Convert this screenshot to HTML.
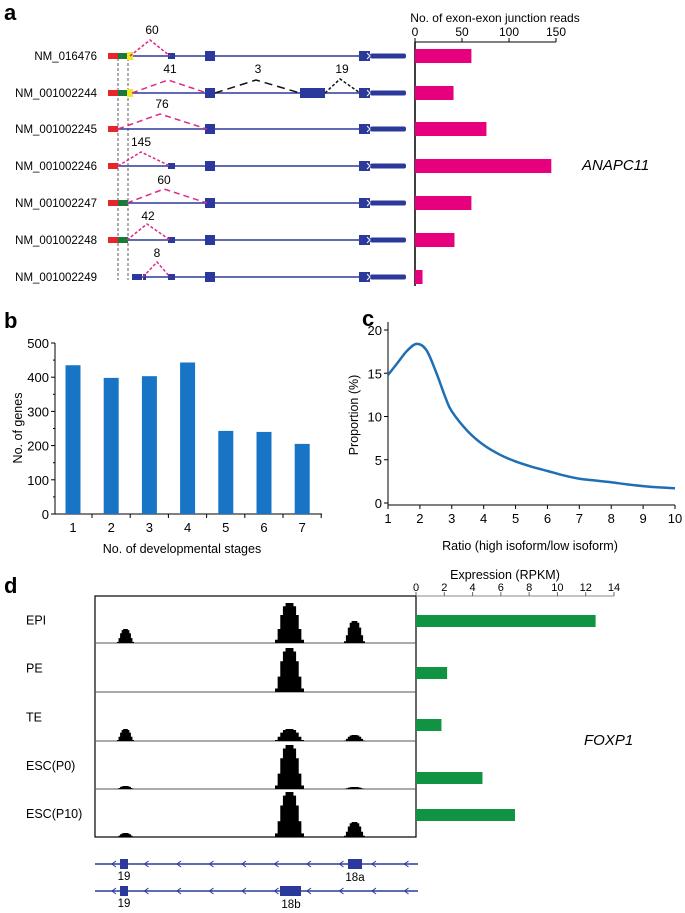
<!DOCTYPE html>
<html><head><meta charset="utf-8"><style>
body{margin:0;background:#fff;}
svg{display:block;font-family:"Liberation Sans",sans-serif;}
</style></head><body>
<svg id="fig" width="685" height="913" viewBox="0 0 685 913">
<g id="pa"></g>
<g id="pb"></g>
<g id="pc"></g>
<g id="pd"></g>
</svg>
<script>
// Panel a data
const isoforms = ["NM_016476","NM_001002244","NM_001002245","NM_001002246","NM_001002247","NM_001002248","NM_001002249"];
const junctionReads = [60,41,76,145,60,42,8];
const readTicks = [0,50,100,150];
// Panel b data
const stages = ["1","2","3","4","5","6","7"];
const geneCounts = [435,398,403,443,243,240,205];
const geneTicks = [0,100,200,300,400,500];
// Panel c data
const ratioX = [1,1.3,1.6,1.9,2.2,2.5,2.8,3,3.5,4,4.5,5,5.5,6,6.5,7,7.5,8,8.5,9,9.5,10];
const proportionY = [14.8,16.2,17.6,18.4,17.7,15.2,12.2,10.6,8.3,6.7,5.6,4.8,4.2,3.7,3.2,2.8,2.6,2.4,2.15,1.95,1.8,1.7];
const ratioTicks = [1,2,3,4,5,6,7,8,9,10];
const propTicks = [0,5,10,15,20];
// Panel d data
const samples = ["EPI","PE","TE","ESC(P0)","ESC(P10)"];
const rpkm = [12.7,2.2,1.8,4.7,7.0];
const rpkmTicks = [0,2,4,6,8,10,12,14];
const peak19 = [14,0,12,3,4];
const peak18b = [40,44,12,44,45];
const peak18a = [22,0,6,2,15];

const NS="http://www.w3.org/2000/svg";
function mk(parent,tag,attrs,text){const e=document.createElementNS(NS,tag);for(const k in attrs)e.setAttribute(k,attrs[k]);if(text!==undefined)e.textContent=text;parent.appendChild(e);return e;}
const fig=document.getElementById('fig');
let t;
[["a",4,20],["b",4,328],["c",362,326],["d",4,593]].forEach(p=>{t=mk(fig,'text',{x:p[1],y:p[2],'font-size':22,'font-weight':'bold'},p[0]);

});

// ---------- Panel A ----------
const pa=document.getElementById('pa');
const rowY=[56,93,129,166,203,240,277];
const xr=v=>415+v*(141/150);
const BLUE="#2b3a9a",PINK="#e0288a";
t=mk(pa,'text',{x:495,y:22,'font-size':12,'text-anchor':'middle'},"No. of exon-exon junction reads");


let ax=mk(pa,'line',{x1:415,y1:42,x2:xr(150),y2:42,stroke:'#000','stroke-width':1});


mk(pa,'line',{x1:415,y1:42,x2:415,y2:286,stroke:'#000','stroke-width':1.5});
readTicks.forEach(v=>{mk(pa,'line',{x1:xr(v),y1:38,x2:xr(v),y2:42,stroke:'#000'});
t=mk(pa,'text',{x:xr(v),y:36,'font-size':12,'text-anchor':'middle'},v);

});
mk(pa,'line',{x1:118,y1:58,x2:118,y2:280,stroke:'#333','stroke-dasharray':'3,2','stroke-width':0.8});
mk(pa,'line',{x1:128,y1:58,x2:128,y2:280,stroke:'#333','stroke-dasharray':'3,2','stroke-width':0.8});
const arcs=[[[130,150,170,40,PINK,'3,2']],[[132,168,207,80,PINK,'6,4'],[215,256,300,80,'#111','8,5'],[325,340,360,79,'#111','3,2']],[[118,160,207,114,PINK,'6,4']],[[118,141,170,152,PINK,'3,2']],[[127,164,207,189,PINK,'6,4']],[[127,147,170,224,PINK,'3,2']],[[143,157,170,262,PINK,'3,2']]];
const arcLabels=[[["60",152,34]],[["41",170,73],["3",258,73],["19",342,73]],[["76",162,108]],[["145",141,146]],[["60",164,184]],[["42",148,220]],[["8",157,257]]];
isoforms.forEach((n,i)=>{const y=rowY[i];
 const g=mk(pa,'g',{});
 
 
 t=mk(g,'text',{x:97,y:y+4,'font-size':11.5,'text-anchor':'end'},n);
 
 
 const start=(i===6)?132:108;
 mk(g,'line',{x1:start,y1:y,x2:405,y2:y,stroke:BLUE,'stroke-width':1.5});
 if(i<6){mk(g,'rect',{x:108,y:y-3,width:10,height:6,fill:'#e8262a'});}
 if(i===0||i===1||i===4||i===5){mk(g,'rect',{x:118,y:y-3,width:10,height:6,fill:'#1a7a3a'});}
 if(i<2){mk(g,'rect',{x:127,y:y-4,width:6,height:8,fill:'#f2e81e'});}
 if(i===6){mk(g,'rect',{x:132,y:y-3,width:10,height:6,fill:BLUE});mk(g,'rect',{x:143,y:y-3,width:3,height:6,fill:BLUE});}
 if(i!==1&&i!==2&&i!==4){mk(g,'rect',{x:168,y:y-3,width:7,height:6,fill:BLUE});}
 mk(g,'rect',{x:205,y:y-5,width:10,height:10,fill:BLUE});
 if(i===1){mk(g,'rect',{x:300,y:y-5,width:25,height:10,fill:BLUE});}
 mk(g,'rect',{x:359,y:y-5,width:11,height:10,fill:BLUE});
 mk(g,'rect',{x:370,y:y-2.5,width:36,height:5,fill:BLUE,rx:2});
 mk(g,'path',{d:`M367 ${y-3} l3 3 l-3 3`,stroke:'#fff','stroke-width':1,fill:'none'});
 arcs[i].forEach(a=>{mk(g,'polyline',{points:`${a[0]},${y} ${a[1]},${a[3]} ${a[2]},${y}`,fill:'none',stroke:a[4],'stroke-width':1.5,'stroke-dasharray':a[5]});});
 arcLabels[i].forEach(l=>{mk(g,'text',{x:l[1],y:l[2],'font-size':12,'text-anchor':'middle'},l[0]);});
 const b=mk(pa,'rect',{x:415,y:y-7,width:xr(junctionReads[i])-415,height:14,fill:'#e6007e'});
 
 
});
t=mk(pa,'text',{x:582,y:170,'font-size':15,'font-style':'italic'},"ANAPC11");



// ---------- Panel B ----------
const pb=document.getElementById('pb');
const by=v=>514-v*(171/500);
const bx=i=>73+i*38.2;
mk(pb,'line',{x1:55,y1:by(500),x2:55,y2:by(0),stroke:'#000'});
mk(pb,'line',{x1:55,y1:by(0),x2:322,y2:by(0),stroke:'#000'});
geneTicks.forEach(v=>{mk(pb,'line',{x1:51,y1:by(v),x2:55,y2:by(v),stroke:'#000'});
 if(v<500)mk(pb,'line',{x1:53,y1:by(v+50),x2:55,y2:by(v+50),stroke:'#000'});
 t=mk(pb,'text',{x:49,y:by(v)+5,'font-size':13,'text-anchor':'end'},v);
 
 });
stages.forEach((s,i)=>{const b=mk(pb,'rect',{x:bx(i)-7.5,y:by(geneCounts[i]),width:15,height:by(0)-by(geneCounts[i]),fill:'#1874c4'});
 
 
 mk(pb,'line',{x1:bx(i)+19,y1:by(0),x2:bx(i)+19,y2:by(0)+4,stroke:'#000'});
 t=mk(pb,'text',{x:bx(i),y:532,'font-size':13,'text-anchor':'middle'},s);
 
 });
t=mk(pb,'text',{x:182,y:553,'font-size':12.5,'text-anchor':'middle'},"No. of developmental stages");


t=mk(pb,'text',{x:22,y:428,'font-size':12.5,'text-anchor':'middle',transform:'rotate(-90 22 428)'},"No. of genes");



// ---------- Panel C ----------
const pc=document.getElementById('pc');
const cx=v=>388+(v-1)*(287/9);
const cy=v=>503-v*(173/20);
mk(pc,'line',{x1:388,y1:322,x2:388,y2:cy(0)+2,stroke:'#000'});
mk(pc,'line',{x1:388,y1:cy(0)+2,x2:675,y2:cy(0)+2,stroke:'#000'});
propTicks.forEach(v=>{mk(pc,'line',{x1:384,y1:cy(v),x2:388,y2:cy(v),stroke:'#000'});
 t=mk(pc,'text',{x:382,y:cy(v)+5,'font-size':13,'text-anchor':'end'},v);
 
 });
ratioTicks.forEach(v=>{mk(pc,'line',{x1:cx(v),y1:cy(0)+2,x2:cx(v),y2:cy(0)+6,stroke:'#000'});
 t=mk(pc,'text',{x:cx(v),y:523,'font-size':13,'text-anchor':'middle'},v);
 
 });
let pts=ratioX.map((x,i)=>[cx(x),cy(proportionY[i])]);
let d='M'+pts[0][0]+' '+pts[0][1];
for(let i=0;i<pts.length-1;i++){const p0=pts[i-1]||pts[i],p1=pts[i],p2=pts[i+1],p3=pts[i+2]||p2;
 d+=` C${p1[0]+(p2[0]-p0[0])/6} ${p1[1]+(p2[1]-p0[1])/6} ${p2[0]-(p3[0]-p1[0])/6} ${p2[1]-(p3[1]-p1[1])/6} ${p2[0]} ${p2[1]}`;}
let ln=mk(pc,'path',{d:d,fill:'none',stroke:'#1f6fb5','stroke-width':2.5});


t=mk(pc,'text',{x:530,y:550,'font-size':12.5,'text-anchor':'middle'},"Ratio (high isoform/low isoform)");


t=mk(pc,'text',{x:358,y:415,'font-size':12.5,'text-anchor':'middle',transform:'rotate(-90 358 415)'},"Proportion (%)");



// ---------- Panel D ----------
const pd=document.getElementById('pd');
const ex=v=>416+v*(198/14);
const rowTop=[596,643,692,741,789], rowBot=[643,692,741,789,837];
mk(pd,'rect',{x:95,y:596,width:321,height:241,fill:'none',stroke:'#000','stroke-width':1.2});
t=mk(pd,'text',{x:505,y:579,'font-size':12.5,'text-anchor':'middle'},"Expression (RPKM)");


mk(pd,'line',{x1:416,y1:596,x2:ex(14),y2:596,stroke:'#888'});
rpkmTicks.forEach(v=>{mk(pd,'line',{x1:ex(v),y1:592,x2:ex(v),y2:596,stroke:'#666'});
 t=mk(pd,'text',{x:ex(v),y:591,'font-size':11,'text-anchor':'middle'},v);
 
 });
function peak(g,x0,x1,base,h){if(h<=0)return;const w=x1-x0,steps=5;let p=`M${x0} ${base}`;
 const lv=[0.08,0.35,0.7,0.92,1];
 for(let k=0;k<steps;k++){const xx=x0+w*k/(2*steps+1);p+=` L${xx} ${base-h*lv[k]} L${x0+w*(k+1)/(2*steps+1)} ${base-h*lv[k]}`;}
 const xc=x0+w*(steps+1)/(2*steps+1);p+=` L${xc} ${base-h}`;
 for(let k=steps-1;k>=0;k--){const xx=x1-w*(k+1)/(2*steps+1);p+=` L${xx} ${base-h*lv[k]} L${x1-w*k/(2*steps+1)} ${base-h*lv[k]}`;}
 p+=` L${x1} ${base} Z`;
 const e=mk(g,'path',{d:p,fill:'#000'});
 
 }
samples.forEach((s,i)=>{
 const base=rowBot[i];
 const g=mk(pd,'g',{});
 
 
 if(i<4)mk(g,'line',{x1:95,y1:base,x2:416,y2:base,stroke:'#555','stroke-width':1});
 peak(g,117,134,base,peak19[i]);
 peak(g,275,304,base,peak18b[i]);
 peak(g,344,365,base,peak18a[i]);
 t=mk(pd,'text',{x:26,y:(rowTop[i]+rowBot[i])/2+5,'font-size':12.5},s);
 
 
 const cyy=[621,673,725,778,815][i];
 const b=mk(pd,'rect',{x:416,y:cyy-6,width:ex(rpkm[i])-416,height:12,fill:'#109444'});
 
 
});
t=mk(pd,'text',{x:584,y:745,'font-size':15,'font-style':'italic'},"FOXP1");


[[864,[[120,8],[348,14]],[["19",124,880],["18a",355,881]]],[891,[[120,8],[280,21]],[["19",124,907],["18b",291,908]]]].forEach((m,j)=>{
 const g=mk(pd,'g',{});
 
 
 const y=m[0];
 mk(g,'line',{x1:95,y1:y,x2:418,y2:y,stroke:BLUE,'stroke-width':1.5});
 for(let x=112;x<410;x+=32.5){mk(g,'path',{d:`M${x+4} ${y-3} L${x} ${y} L${x+4} ${y+3}`,stroke:BLUE,fill:'none','stroke-width':1});}
 m[1].forEach(e=>mk(g,'rect',{x:e[0],y:y-5,width:e[1],height:10,fill:BLUE}));
 m[2].forEach(l=>mk(g,'text',{x:l[1],y:l[2],'font-size':11.5,'text-anchor':'middle'},l[0]));
});
</script>
</body></html>
